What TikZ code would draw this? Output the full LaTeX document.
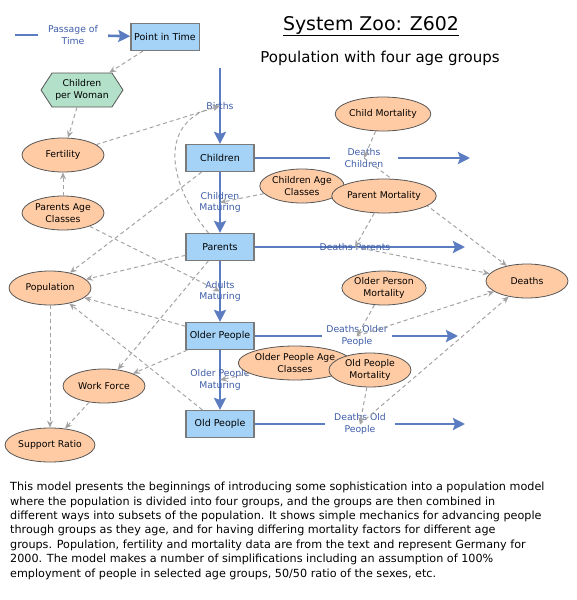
\documentclass[tikz,border=0pt]{standalone}
\usepackage{fontspec}
\setmainfont{DejaVu Sans}
\usetikzlibrary{shapes.geometric,shapes.symbols,arrows.meta}

\definecolor{stockfill}{HTML}{A4D3F7}
\definecolor{stockline}{HTML}{7A7A7A}
\definecolor{auxfill}{HTML}{FFCBA4}
\definecolor{auxline}{HTML}{555555}
\definecolor{varfill}{HTML}{B2E0C8}
\definecolor{flowblue}{HTML}{5B7CC0}
\definecolor{flowtext}{HTML}{3E5DA8}
\definecolor{linkgray}{HTML}{A3A3A3}

\tikzset{
	stock/.style={rectangle, draw=stockline, line width=1.2pt, fill=stockfill, minimum width=68pt, minimum height=27pt, font=\fontsize{9.5}{11}\selectfont},
	aux/.style={ellipse, draw=auxline, line width=0.8pt, fill=auxfill, minimum width=82pt, minimum height=34pt, inner sep=0pt, align=center, font=\fontsize{9.3}{11.5}\selectfont},
	var/.style={signal, signal to=west and east, signal pointer angle=114, draw=auxline, line width=0.8pt, fill=varfill, minimum width=82pt, minimum height=34pt, inner sep=0pt, align=center, font=\fontsize{9.3}{11.5}\selectfont},
	pipe/.style={draw=flowblue, line width=2.6pt},
	flow/.style={pipe, -{Stealth[length=12pt,width=12pt,inset=2pt]}},
	valve/.style={text=flowtext, align=center, inner sep=1pt, font=\fontsize{9.3}{11.5}\selectfont},
	link/.style={draw=linkgray, line width=1pt, dash pattern=on 4pt off 3pt, -{Stealth[length=7pt,width=6pt]}}
}

\begin{document}
\begin{tikzpicture}[x=1pt, y=-1pt]
\useasboundingbox (0,0) rectangle (576,600);

\node (title) at (371,26) [font=\fontsize{18.9}{22}\selectfont] {\underline{System Zoo: Z602}};
\node (subtitle) at (380,58) [font=\fontsize{15}{18}\selectfont] {Population with four age groups};

% stocks
\node (pit) at (165,37) [stock] {Point in Time};
\node (children) at (220,158) [stock] {Children};
\node (parents) at (220,247) [stock] {Parents};
\node (older) at (220,336) [stock] {Older People};
\node (old) at (220,424) [stock] {Old People};

% flows
\coordinate (timesrc) at (15,35);
\coordinate (birthsrc) at (220,68);
\coordinate (dchend) at (470,158);
\coordinate (dparend) at (465,247);
\coordinate (dopend) at (458,336);
\coordinate (doldend) at (465,424);
\node (pot) at (73,35) [valve, minimum width=70pt] {Passage of\\Time};
	\draw[pipe] (timesrc) -- (pot);
	\draw[flow] (pot) -- (pit);
\draw[flow] (birthsrc) -- (children) node[valve, midway] (births) {Births};
\draw[flow] (children) -- (parents) node[valve, midway] (chmat) {Children\\Maturing};
\draw[flow] (parents) -- (older) node[valve, midway] (admat) {Adults\\Maturing};
\draw[flow] (older) -- (old) node[valve, midway] (opmat) {Older People\\Maturing};
\node (dch) at (364,158) [valve, minimum width=68pt] {Deaths\\Children};
	\draw[pipe] (children) -- (dch);
	\draw[flow] (dch) -- (dchend);
\draw[flow] (parents) -- (dparend);
\node (dpar) at (355,247) [valve] {Deaths Parents};
\node (dop) at (357,336) [valve, minimum width=70pt] {Deaths Older\\People};
	\draw[pipe] (older) -- (dop);
	\draw[flow] (dop) -- (dopend);
\node (dold) at (360,424) [valve, minimum width=70pt] {Deaths Old\\People};
	\draw[pipe] (old) -- (dold);
	\draw[flow] (dold) -- (doldend);

% converters
\node (cpw) at (82,90) [var] {Children\\per Woman};
\node (fert) at (63,155) [aux] {Fertility};
\node (pac) at (63,213) [aux] {Parents Age\\Classes};
\node (pop) at (50,288) [aux] {Population};
\node (wf) at (104,386) [aux] {Work Force};
\node (sr) at (50,445) [aux] {Support Ratio};
\node (deaths) at (527,281) [aux] {Deaths};
	\draw[link] (dch.center) -- (deaths);
\node (chmort) at (383,114) [aux] {Child Mortality};
\node (cac) at (302,186) [aux] {Children Age\\Classes};
\node (parmort) at (384,196) [aux] {Parent Mortality};
\node (opmort) at (384,288) [aux] {Older Person\\Mortality};
\node (opac) at (295,363) [aux] {Older People Age\\Classes};
\node (oldmort) at (370,370) [aux] {Old People\\Mortality};

% links
\draw[link] (pit) -- (cpw);
\draw[link] (cpw) -- (fert);
\draw[link] (fert) -- (births.center);
\draw[link] (pac) -- (fert);
\draw[link] (pac) -- (admat.center);
\draw[link] (parents) .. controls (165,180) and (160,120) .. (births.center);
\draw[link] (cac) -- (chmat.center);
\draw[link] (opac) -- (opmat.center);
\draw[link] (children) -- (pop);
\draw[link] (parents) -- (pop);
\draw[link] (older) -- (pop);
\draw[link] (old) -- (pop);
\draw[link] (parents) -- (wf);
\draw[link] (older) -- (wf);
\draw[link] (pop) -- (sr);
\draw[link] (wf) -- (sr);
\draw[link] (chmort) -- (dch.center);
\draw[link] (parmort) -- (dpar.center);
\draw[link] (opmort) -- (dop.center);
\draw[link] (oldmort) -- (dold.center);
\draw[link] (dpar.center) -- (deaths);
\draw[link] (dop.center) -- (deaths);
\draw[link] (dold.center) -- (deaths);

\node (about) at (10,482) [anchor=north west, align=left, inner sep=0pt, font=\fontsize{11.2}{14.4}\selectfont] {This model presents the beginnings of introducing some sophistication into a population model\\
where the population is divided into four groups, and the groups are then combined in\\
different ways into subsets of the population. It shows simple mechanics for advancing people\\
through groups as they age, and for having differing mortality factors for different age\\
groups. Population, fertility and mortality data are from the text and represent Germany for\\
2000. The model makes a number of simplifications including an assumption of 100\%\\
employment of people in selected age groups, 50/50 ratio of the sexes, etc.};
\end{tikzpicture}
\end{document}
